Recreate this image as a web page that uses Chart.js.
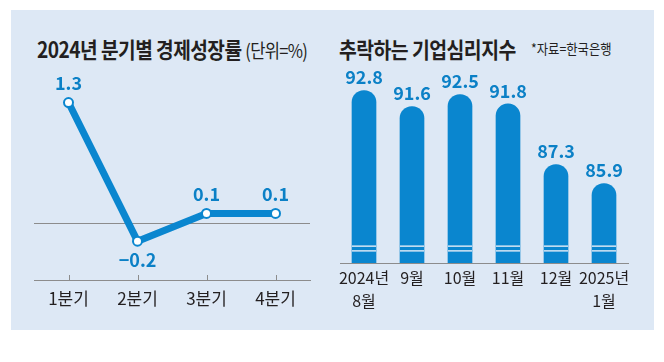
<!DOCTYPE html>
<html><head><meta charset="utf-8">
<script src="https://cdn.jsdelivr.net/npm/chart.js@4/dist/chart.umd.min.js"></script>
<style>
html,body{margin:0;padding:0;background:#fff;width:664px;height:362px;overflow:hidden}
#panel{position:absolute;left:11px;top:10px;width:643px;height:320px;background:#dde8f5}
.t{position:absolute;white-space:nowrap;color:#231f20;font-family:"Noto Sans CJK KR",sans-serif;transform-origin:left center;line-height:26px}
#c1,#c2{position:absolute}
#c1{left:11px;top:60px}
#c2{left:332px;top:60px}
</style></head>
<body>
<div id="panel"></div>
<div class="t" style="left:37px;top:35px;font-size:22px;font-weight:bold;letter-spacing:-0.6px;transform:scaleX(0.87)">2024년 분기별 경제성장률 <span style="font-weight:normal;font-size:19px;letter-spacing:-0.8px">(단위=%)</span></div>
<div class="t" style="left:339px;top:35px;font-size:22px;font-weight:bold;letter-spacing:-0.6px;transform:scaleX(0.88)">추락하는 기업심리지수</div>
<div class="t" style="left:531px;top:35px;font-size:14px;transform:scaleX(0.88)">*자료=한국은행</div>
<canvas id="c1" width="321" height="270"></canvas>
<canvas id="c2" width="322" height="270"></canvas>
<script>
// ---- data ----
const quarters = ['1분기', '2분기', '3분기', '4분기'];
const growth = [1.3, -0.2, 0.1, 0.1];
const months = [['2024년', '8월'], '9월', '10월', '11월', '12월', ['2025년', '1월']];
const bsi = [92.8, 91.6, 92.5, 91.8, 87.3, 85.9];

// ---- styles ----
const BLUE = '#0a86cf';
const LABEL_BLUE = '#0b80c6';
const TEXT = '#231f20';
const AXIS = '#8c8c8c';
const FONT = "'Noto Sans CJK KR',sans-serif";

const valueLabels = {
  id: 'valueLabels',
  afterDatasetsDraw(chart, args, opts) {
    const ctx = chart.ctx;
    const meta = chart.getDatasetMeta(0);
    const data = chart.data.datasets[0].data;
    ctx.save();
    ctx.fillStyle = LABEL_BLUE;
    ctx.font = 'bold 18px ' + FONT;
    ctx.textAlign = 'center';
    ctx.textBaseline = 'middle';
    meta.data.forEach((el, i) => {
      const v = data[i];
      const txt = v < 0 ? '\u2212' + Math.abs(v).toFixed(1) : v.toFixed(1);
      ctx.fillText(txt, el.x, el.y + opts.offset(v));
    });
    ctx.restore();
  }
};

const lineDecor = {
  id: 'lineDecor',
  beforeDatasetsDraw(chart) {
    const ctx = chart.ctx, xs = chart.scales.x, ys = chart.scales.y, a = chart.chartArea;
    ctx.save();
    ctx.strokeStyle = AXIS;
    ctx.lineWidth = 1;
    const zy = Math.round(ys.getPixelForValue(0)) + 0.5;
    ctx.beginPath(); ctx.moveTo(a.left, zy); ctx.lineTo(a.right, zy); ctx.stroke();
    xs.ticks.forEach((t, i) => {
      const px = Math.round(xs.getPixelForTick(i)) + 0.5;
      ctx.beginPath(); ctx.moveTo(px, a.bottom - 5); ctx.lineTo(px, a.bottom); ctx.stroke();
    });
    ctx.restore();
  }
};

const barBreak = {
  id: 'barBreak',
  afterDatasetsDraw(chart) {
    const ctx = chart.ctx, ys = chart.scales.y;
    const meta = chart.getDatasetMeta(0);
    ctx.save();
    ctx.strokeStyle = '#d6e6f4';
    ctx.lineWidth = 1.5;
    [80.9, 81.25].forEach(v => {
      const py = ys.getPixelForValue(v);
      meta.data.forEach(el => {
        ctx.beginPath(); ctx.moveTo(el.x - el.width / 2, py); ctx.lineTo(el.x + el.width / 2, py); ctx.stroke();
      });
    });
    ctx.restore();
  }
};

new Chart(document.getElementById('c1'), {
  type: 'line',
  data: {
    labels: quarters,
    datasets: [{
      data: growth, borderColor: BLUE, borderWidth: 7, tension: 0,
      pointRadius: 4.5, pointBackgroundColor: '#fff', pointBorderColor: BLUE, pointBorderWidth: 2
    }]
  },
  options: {
    responsive: false, animation: false, devicePixelRatio: 1,
    layout: { padding: { left: 23, right: 22, top: 0, bottom: 0 } },
    plugins: { legend: { display: false }, tooltip: { enabled: false },
      valueLabels: { offset: v => v < 0 ? 19 : -19 } },
    scales: {
      x: {
        offset: true,
        grid: { display: false, drawTicks: false },
        border: { color: AXIS, width: 1 },
        ticks: { color: TEXT, font: { family: FONT, size: 17 }, padding: 8, maxRotation: 0, autoSkip: false },
        afterFit(s) { s.height = 50; }
      },
      y: { display: false, min: -0.62, max: 1.69 }
    }
  },
  plugins: [lineDecor, valueLabels]
});

new Chart(document.getElementById('c2'), {
  type: 'bar',
  data: {
    labels: months,
    datasets: [{ data: bsi, backgroundColor: BLUE, borderRadius: 12, barThickness: 24 }]
  },
  options: {
    responsive: false, animation: false, devicePixelRatio: 1,
    layout: { padding: { left: 8, right: 26, top: 0, bottom: 0 } },
    plugins: { legend: { display: false }, tooltip: { enabled: false },
      valueLabels: { offset: v => -13 } },
    scales: {
      x: {
        grid: { display: false, drawTicks: false },
        border: { color: AXIS, width: 1 },
        ticks: { color: TEXT, font: { family: FONT, size: 16, lineHeight: 1.4 }, padding: 4,
          maxRotation: 0, minRotation: 0, autoSkip: false },
        afterFit(s) { s.height = 67; }
      },
      y: { display: false, min: 80, max: 95.06 }
    }
  },
  plugins: [barBreak, valueLabels]
});
</script>
</body></html>
